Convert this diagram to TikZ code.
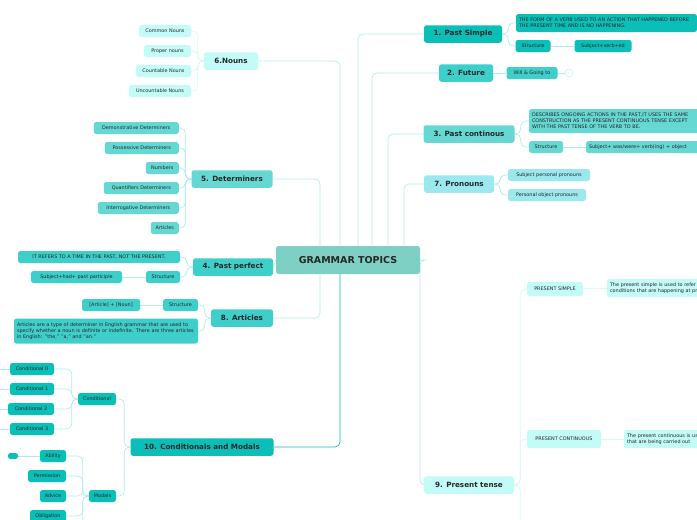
\documentclass[tikz,border=0pt]{standalone}
\usepackage{fontspec}
\setmainfont{DejaVu Sans}
\usetikzlibrary{backgrounds}
\begin{document}
\begin{tikzpicture}[x=1pt,y=-1pt,
 bx/.style={rounded corners=2.5pt, inner sep=0pt, align=center, text=black!85},
 sm/.style={bx, font=\fontsize{4.9}{6}\selectfont, minimum height=12pt},
 md/.style={bx, font=\fontsize{7.2}{8}\selectfont\bfseries, minimum height=17.5pt},
 cn/.style={draw=#1, line width=0.7pt, rounded corners=5pt},
 cn/.default=cl,
]
\hyphenpenalty=10000 \exhyphenpenalty=10000
\definecolor{c1}{HTML}{0ABFB8}\definecolor{c2}{HTML}{3FCFCB}\definecolor{c3}{HTML}{66D8D4}
\definecolor{c4}{HTML}{9BE9EE}\definecolor{c5}{HTML}{C3FBF7}\definecolor{cc}{HTML}{7DD0C3}
\definecolor{cl}{HTML}{B2ECEA}\definecolor{cl2}{HTML}{D8F7F5}
\useasboundingbox (0,0) rectangle (697,520);
\clip (0,0) rectangle (697,520);
% center
\node[bx, fill=cc, minimum width=144pt, minimum height=28pt, font=\fontsize{9.5}{11}\selectfont\bfseries] (gt) at (348,260) {GRAMMAR TOPICS};
% right main
\node[md, fill=c1, minimum width=78pt] (ps) at (463,34) {1. Past Simple};
\node[md, fill=c2, minimum width=54pt] (fu) at (466,73) {2. Future};
\node[md, fill=c3, minimum width=91pt] (pc) at (469,134) {3. Past continous};
\node[md, fill=c4, minimum width=70pt] (pr) at (459,184) {7. Pronouns};
\node[md, fill=c5, minimum width=90pt] (pt) at (469,485) {9. Present tense};
% left main
\node[md, fill=c5, minimum width=54pt] (no) at (231,61) {6.Nouns};
\node[md, fill=c3, minimum width=81pt] (de) at (232,179) {5. Determiners};
\node[md, fill=c2, minimum width=80pt] (pp) at (233,267) {4. Past perfect};
\node[md, fill=c2, minimum width=62pt] (ar) at (242,318) {8. Articles};
\node[md, fill=c1, minimum width=143pt] (cm) at (202,447) {10. Conditionals and Modals};
% Past simple
\node[sm, fill=c1, minimum width=181pt, minimum height=18pt, text width=175pt, align=left] (ps1) at (606.5,23) {THE FORM OF A VERB USED TO  AN ACTION THAT HAPPENED BEFORE THE PRESENT TIME AND IS NO  HAPPENING.};
\node[sm, fill=c1, minimum width=35pt] (ps2) at (533,46) {Structure};
\node[sm, fill=c1, minimum width=57pt] (ps3) at (603,46) {Subject+verb+ed};
% Future
\node[sm, fill=c2, minimum width=51pt] (fu1) at (532,73) {Will \& Going to};
\node[circle, draw=cl, fill=white, minimum size=8pt, inner sep=0pt, font=\fontsize{3}{3}\selectfont, text=cl] (fu2) at (569,73) {?};
% Past cont
\node[sm, fill=c3, minimum width=175pt, minimum height=24pt, text width=169pt, align=left] (pc1) at (616.5,121) {DESCRIBES ONGOING ACTIONS IN THE PAST,IT USES THE SAME CONSTRUCTION AS THE PRESENT CONTINUOUS TENSE EXCEPT WITH THE PAST TENSE OF THE VERB TO BE.};
\node[sm, fill=c3, minimum width=34pt] (pc2) at (546,147) {Structure};
\node[sm, fill=c3, minimum width=130pt, text width=124pt, align=left] (pc3) at (651,147) {Subject+ was/were+ verb(ing) + object};
% Pronouns
\node[sm, fill=c4, minimum width=82pt] (pr1) at (549,175) {Subject personal pronouns};
\node[sm, fill=c4, minimum width=78pt] (pr2) at (547,195) {Personal object pronouns};
% Present tense
\node[sm, fill=c5, minimum width=56pt, minimum height=14pt] (pt1) at (555,289) {PRESENT SIMPLE};
\node[sm, fill=c5, minimum width=74pt, minimum height=18pt] (pt2) at (564,439) {PRESENT CONTINUOUS};
\node[sm, fill=c5, minimum width=120pt, minimum height=18pt, text width=114pt, align=left] (pt3) at (667,288) {The present simple is used to refer to conditions that are happening at present};
\node[sm, fill=c5, minimum width=120pt, minimum height=18pt, text width=114pt, align=left] (pt4) at (684,439) {The present continuous is used for actions that are being carried out};
% Nouns
\foreach \n/\t/\w/\x/\y in {n1/Common Nouns/52/165/31, n2/Proper nouns/47/167.5/51, n3/Countable Nouns/55/163.5/71, n4/Uncountable Nouns/62/160/91}{
  \node[sm, fill=c5, minimum width=\w pt] (\n) at (\x,\y) {\t};}
% Determiners
\foreach \n/\t/\w/\y in {d1/Demonstrative Determiners/85/128, d2/Possessive Determiners/74/148, d3/Numbers/33/168, d4/Quantifiers Determiners/75/188, d5/Interrogative Determiners/81/208, d6/Articles/28/228}{
  \node[sm, fill=c3, minimum width=\w pt, anchor=east] (\n) at (179,\y) {\t};}
% Past perfect
\node[sm, fill=c2, minimum width=162pt] (pp1) at (99,257) {IT REFERS TO A TIME IN THE PAST, NOT THE PRESENT.};
\node[sm, fill=c2, minimum width=34pt] (pp2) at (163,277) {Structure};
\node[sm, fill=c2, minimum width=91pt] (pp3) at (76.5,277) {Subject+had+ past participle};
% Articles
\node[sm, fill=c2, minimum width=35pt] (ar1) at (180.5,305) {Structure};
\node[sm, fill=c2, minimum width=58pt] (ar2) at (111,305) {[Article] + [Noun]};
\node[sm, fill=c2, minimum width=184pt, minimum height=25pt, text width=178pt, align=left] (ar3) at (106,331) {Articles are a type of determiner in English grammar that are used to specify whether a noun is definite or indefinite. There are three articles in English: "the," "a," and "an."};
% Conditionals
\node[sm, fill=c1, minimum width=38pt] (co) at (97,399) {Conditional};
\node[sm, fill=c1, minimum width=27pt] (mo) at (102.5,496) {Modals};
\foreach \n/\t/\x/\w/\y in {k0/Conditional 0/32/44/369, k1/Conditional 1/32/44/389, k2/Conditional 2/31/46/409, k3/Conditional 3/32/44/429}{
  \node[sm, fill=c1, minimum width=\w pt] (\n) at (\x,\y) {\t};
  \coordinate (\n e) at (0,\y);}
\foreach \n/\t/\x/\w/\y in {m1/Ability/53/26/456, m2/Permission/47/38/476, m3/Advice/53/26/496, m4/Obligation/48/36/516}{
  \node[sm, fill=c1, minimum width=\w pt] (\n) at (\x,\y) {\t};}
\node[bx, fill=c1, minimum width=10pt, minimum height=6pt] (m0) at (13,456) {};
\begin{scope}[on background layer]
\foreach \n/\x in {ps/358,fu/372,pc/388,pr/404,pt/420}{
  \draw[cn] (gt.east) -- (\x,260) |- (\n.west);}
\foreach \n/\x in {no/340,de/320}{
  \draw[cn] (gt.west) -- (\x,260) |- (\n.east);}
\draw[cn] (gt.west) -- (pp.east);
\draw[cn] (gt.west) -- (320,260) |- (ar.east);
\draw[cn=c1] (gt.west) -- (340,260) |- (cm.east);
\draw[cn] (ps.east) -- ++(6,0) |- (ps1.west);
\draw[cn] (ps.east) -- ++(6,0) |- (ps2.west);
\draw[cn] (ps2) -- (ps3);
\draw[cn] (fu) -- (fu1); \draw[cn] (fu1) -- (fu2);
\draw[cn] (pc.east) -- ++(6,0) |- (pc1.west);
\draw[cn] (pc.east) -- ++(6,0) |- (pc2.west);
\draw[cn] (pc2) -- (pc3);
\draw[cn] (pr.east) -- ++(6,0) |- (pr1.west);
\draw[cn] (pr.east) -- ++(6,0) |- (pr2.west);
\draw[cn=cl2] (pt.east) -- ++(6,0) |- (pt1.west);
\draw[cn=cl2] (pt.east) -- ++(6,0) |- (pt2.west);
\draw[cn=cl2] (pt.east) -- ++(6,0) -- ++(0,40);
\draw[cn=cl2] (pt1) -- (pt3); \draw[cn=cl2] (pt2) -- (pt4);
\foreach \n in {n1,n2,n3,n4}{\draw[cn=cl2] (no.west) -- ++(-6,0) |- (\n.east);}
\foreach \n in {d1,d2,d3,d4,d5,d6}{\draw[cn] (de.west) -- ++(-6,0) |- (\n.east);}
\draw[cn] (pp.west) -- ++(-6,0) |- (pp1.east);
\draw[cn] (pp.west) -- ++(-6,0) |- (pp2.east);
\draw[cn] (pp2) -- (pp3);
\draw[cn] (ar.west) -- ++(-6,0) |- (ar1.east);
\draw[cn] (ar.west) -- ++(-6,0) |- (ar3.east);
\draw[cn] (ar1) -- (ar2);
\draw[cn] (cm.west) -- ++(-6,0) |- (co.east);
\draw[cn] (cm.west) -- ++(-6,0) |- (mo.east);
\foreach \n in {k0,k1,k2,k3}{\draw[cn] (co.west) -- ++(-6,0) |- (\n.east); \draw[cn] (\n.west) -- (\n e);}
\foreach \n in {m1,m2,m3,m4}{\draw[cn] (mo.west) -- ++(-6,0) |- (\n.east);}
\draw[cn] (mo.west) -- ++(-6,0) -- ++(0,30);
\draw[cn] (m1) -- (m0);
\end{scope}
\end{tikzpicture}
\end{document}
